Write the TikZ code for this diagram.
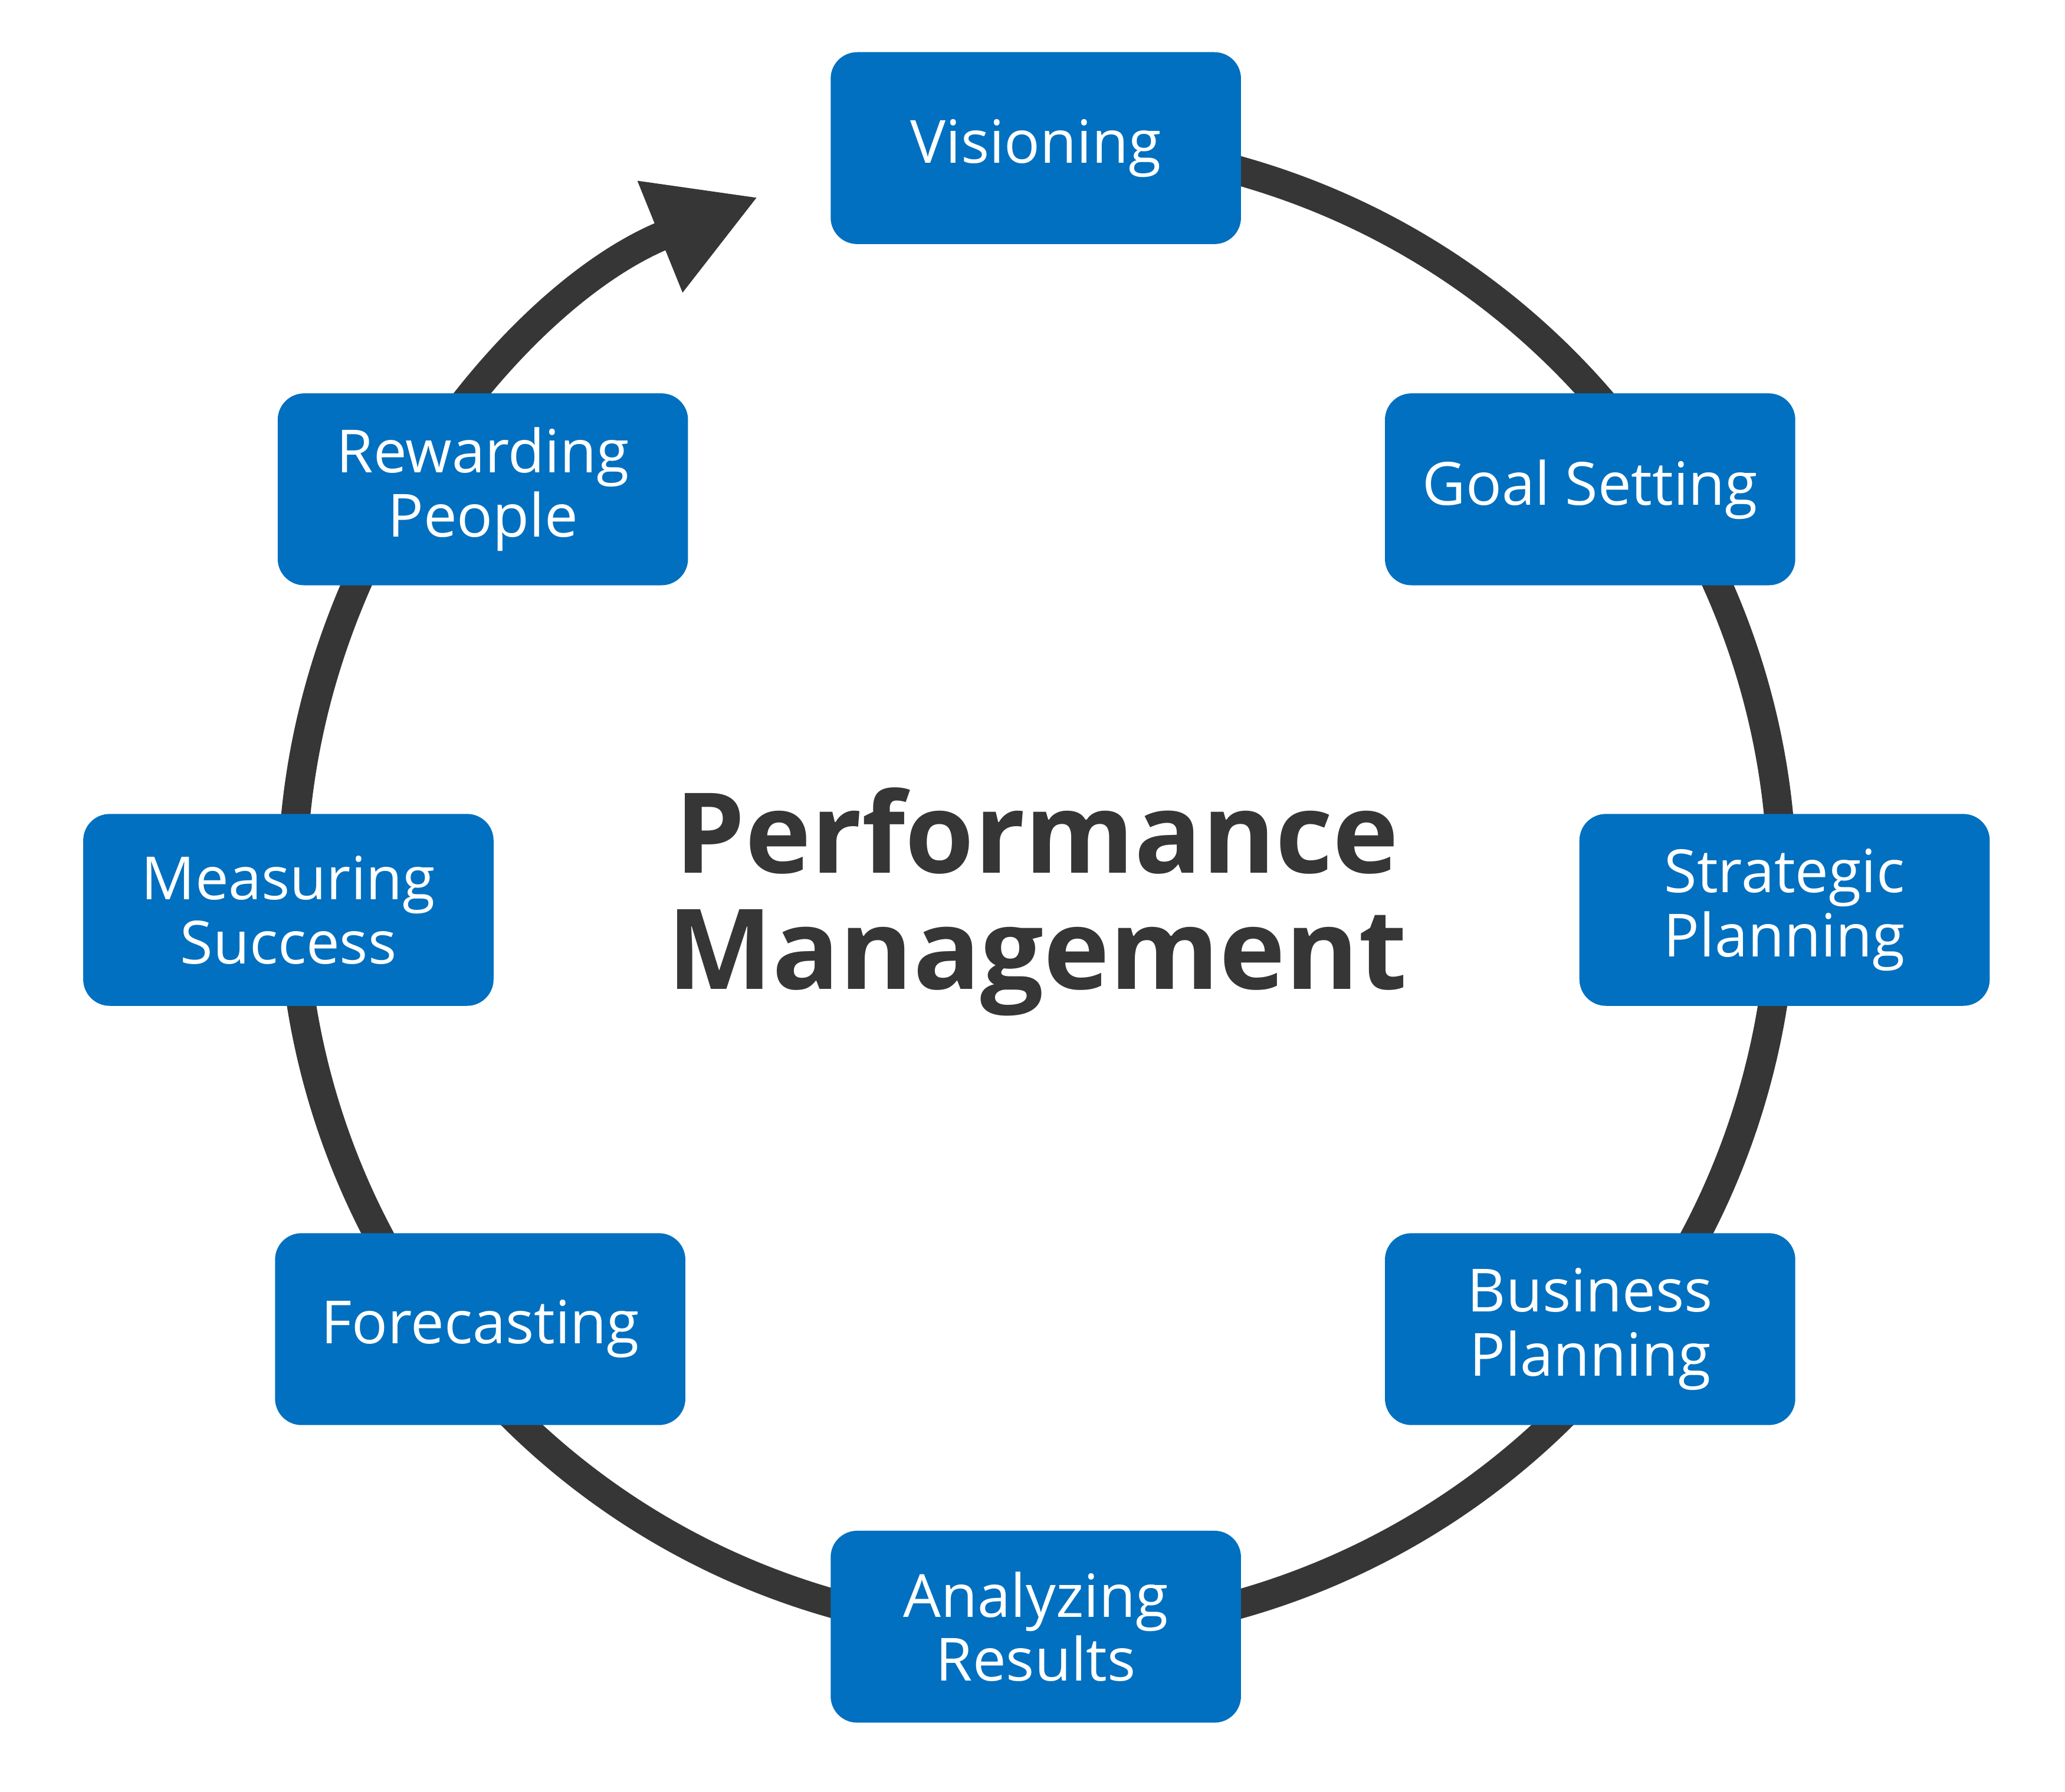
\documentclass[tikz,border=0pt]{standalone}
\usepackage{fontspec}
\setmainfont{Open Sans}
\usetikzlibrary{arrows.meta,positioning}
\definecolor{stepblue}{HTML}{0270C0}
\definecolor{ringgray}{HTML}{363636}

\begin{document}
\begin{tikzpicture}[x=0.01cm,y=0.01cm,
    stagebox/.style={fill=stepblue, rounded corners=0.2cm, minimum width=3.1cm,
      minimum height=1.45cm, text=white, align=center,
      font=\fontsize{12.8}{13.8}\selectfont},
    ring/.style={draw=ringgray, line width=0.22cm}]
    \useasboundingbox (0,0) rectangle (1561,-1355);

    % Ring with arrow
    \coordinate (mid) at (784,-671);
    \draw[ring, -{Triangle[length=0.8cm,width=0.85cm]}]
      ([shift={(75:563)}]mid) arc[start angle=75, end angle=-248, radius=563];

    % Steps
    \node[stagebox] (vis) at (783,-112) {Visioning};
    \node[stagebox] (goal) at (1202,-370) {Goal Setting};
    \node[stagebox] (strat) at (1349,-688) {Strategic\\Planning};
    \node[stagebox] (bus) at (1202,-1005) {Business\\Planning};
    \node[stagebox] (anal) at (783,-1230) {Analyzing\\Results};
    \node[stagebox] (fore) at (363,-1005) {Forecasting};
    \node[stagebox] (meas) at (218,-688) {Measuring\\Success};
    \node[stagebox] (rew) at (365,-370) {Rewarding\\People};

    % Title
    \node[text=ringgray, align=center, font=\bfseries\fontsize{24}{25}\selectfont]
      (title) at (784,-682) {Performance\\Management};
\end{tikzpicture}
\end{document}
